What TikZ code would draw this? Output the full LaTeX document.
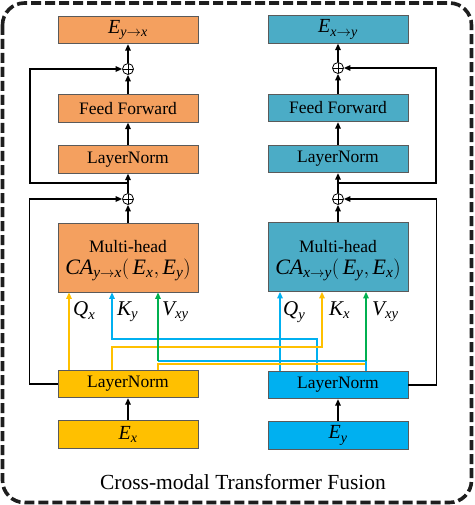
\documentclass[tikz,border=0pt]{standalone}
\usepackage{amsmath}
\usepackage{fontspec}
\setmainfont{Liberation Serif}
\usetikzlibrary{arrows.meta}
\definecolor{orng}{HTML}{F4A05F}
\definecolor{tealb}{HTML}{4BACC6}
\definecolor{gold}{HTML}{FFC000}
\definecolor{sky}{HTML}{00B0F0}
\definecolor{grn}{HTML}{00B050}
\definecolor{bord}{HTML}{5A5A5A}
\definecolor{frame}{HTML}{1E1E1E}
\begin{document}
\begin{tikzpicture}[x=1pt,y=-1pt,
  box/.style={draw=bord, line width=0.8pt, minimum width=140pt, minimum height=27.5pt, inner sep=0pt, font=\fontsize{17.5}{19}\selectfont},
  arr/.style={-{Triangle[length=6.5pt,width=5.5pt]}, line width=1.5pt},
  carr/.style={-{Triangle[length=6.5pt,width=5.5pt]}, line width=1.5pt},
  cline/.style={line width=1.5pt},
  plusnode/.style={circle, draw, fill=white, line width=0.8pt, minimum size=11pt, inner sep=0pt,
    path picture={\draw[line width=0.7pt] (path picture bounding box.north) -- (path picture bounding box.south) (path picture bounding box.west) -- (path picture bounding box.east);}},
  etxt/.style={font=\fontsize{20}{22}\selectfont},
  lbl/.style={font=\fontsize{21}{23}\selectfont, anchor=base west, inner sep=0pt},
  mtxt/.style={font=\fontsize{17.5}{19}\selectfont, inner sep=0pt},
  catxt/.style={font=\fontsize{22}{24}\selectfont, inner sep=0pt}
]
\useasboundingbox (0,0) rectangle (474,505);
% frame
\draw[frame, line width=3.6pt, dash pattern=on 10pt off 4pt, rounded corners=22pt] (2.5,3) rectangle (471.5,502.5);

% coordinates for colored routing
\coordinate (xQl) at (69,0);
\coordinate (xKl) at (112,0);
\coordinate (xVl) at (158,0);
\coordinate (xQr) at (280,0);
\coordinate (xBr) at (317,0);
\coordinate (xKr) at (322,0);
\coordinate (xVr) at (366,0);
\coordinate (yB) at (0,339);
\coordinate (yY) at (0,347);
\coordinate (yG) at (0,361);
\coordinate (yY2) at (0,364);

% left column
\node[box, fill=orng, etxt] (eyx) at (128,30) {$\textit{E}_{\textit{y}\rightarrow\textit{x}}$};
\node[plusnode] (p1l) at (128,69) {};
\node[box, fill=orng] (ffl) at (128,108.5) {Feed Forward};
\node[box, fill=orng] (ln1l) at (128,159.5) {LayerNorm};
\coordinate (jl) at (128,183);
\node[plusnode] (p2l) at (128,199) {};
\node[box, fill=orng, minimum height=69pt] (mhl) at (128,257.5) {};
\node[mtxt] (mhlt) at (128,247) {Multi-head};
\node[catxt] (mhlm) at (128,270) {$\textit{CA}_{\textit{y}\rightarrow\textit{x}}(\,\textit{E}_{\textit{x}},\textit{E}_{\textit{y}})$};
\node[box, fill=gold] (ln0l) at (128,384) {LayerNorm};
\node[box, fill=gold, etxt] (exl) at (128,434.5) {$\textit{E}_{\textit{x}}$};

% right column
\node[box, fill=tealb, etxt] (exy) at (338,29.5) {$\textit{E}_{\textit{x}\rightarrow\textit{y}}$};
\node[plusnode] (p1r) at (338,68) {};
\node[box, fill=tealb] (ffr) at (338,108) {Feed Forward};
\node[box, fill=tealb] (ln1r) at (338,159) {LayerNorm};
\coordinate (jr) at (338,183);
\node[plusnode] (p2r) at (338,199) {};
\node[box, fill=tealb, minimum height=69pt] (mhr) at (338,257) {};
\node[mtxt] (mhrt) at (338,247) {Multi-head};
\node[catxt] (mhrm) at (338,270) {$\textit{CA}_{\textit{x}\rightarrow\textit{y}}(\,\textit{E}_{\textit{y}},\textit{E}_{\textit{x}})$};
\node[box, fill=sky] (ln0r) at (338,385) {LayerNorm};
\node[box, fill=sky, etxt] (eyr) at (338,435.5) {$\textit{E}_{\textit{y}}$};

% black flow arrows left
\draw[arr] (exl.north) -- (ln0l.south);
\draw[arr] (mhl.north) -- (p2l.south);
\draw[arr] (p2l.north) -- (ln1l.south);
\draw[arr] (ln1l.north) -- (ffl.south);
\draw[arr] (ffl.north) -- (p1l.south);
\draw[arr] (p1l.north) -- (eyx.south);
\draw[arr] (jl) -- ++(-98,0) |- (p1l.west);
\draw[arr] (ln0l.west) -- ++(-28,0) |- (p2l.west);

% black flow arrows right
\draw[arr] (eyr.north) -- (ln0r.south);
\draw[arr] (mhr.north) -- (p2r.south);
\draw[arr] (p2r.north) -- (ln1r.south);
\draw[arr] (ln1r.north) -- (ffr.south);
\draw[arr] (ffr.north) -- (p1r.south);
\draw[arr] (p1r.north) -- (exy.south);
\draw[arr] (jr) -- ++(98,0) |- (p1r.east);
\draw[arr] (ln0r.east) -- ++(28,0) |- (p2r.east);

% colored routing
\draw[carr, gold] (xQl |- ln0l.north) -- (xQl |- mhl.south);
\draw[carr, sky] (xQr |- ln0r.north) -- (xQr |- mhr.south);
\draw[carr, sky] (xBr |- ln0r.north) -- (xBr |- yB) -| (xKl |- mhl.south);
\draw[carr, gold] (xKl |- ln0l.north) -- (xKl |- yY) -| (xKr |- mhr.south);
\draw[cline, gold] (xVl |- ln0l.north) -- (xVl |- yY2) -- (xVr |- yY2);
\draw[cline, sky] (xVr |- ln0r.north) -- (xVr |- yG) -- (xVl |- yG);
\draw[carr, grn] (xVl |- yG) -- (xVl |- mhl.south);
\draw[carr, grn] (xVr |- yG) -- (xVr |- mhr.south);

% labels
\node[lbl] (lqx) at (73,315) {$\textit{Q}_{\textit{x}}$};
\node[lbl] (lky) at (117,315) {$\textit{K}_{\textit{y}}$};
\node[lbl] (lvl) at (162,315) {$\textit{V}_{\textit{xy}}$};
\node[lbl] (lqy) at (283,315) {$\textit{Q}_{\textit{y}}$};
\node[lbl] (lkx) at (329,315) {$\textit{K}_{\textit{x}}$};
\node[lbl] (lvr) at (372,315) {$\textit{V}_{\textit{xy}}$};

% title
\node[font=\fontsize{21.5}{24}\selectfont, anchor=base, inner sep=0pt] (title) at (243,489) {Cross-modal Transformer Fusion};
\end{tikzpicture}
\end{document}
